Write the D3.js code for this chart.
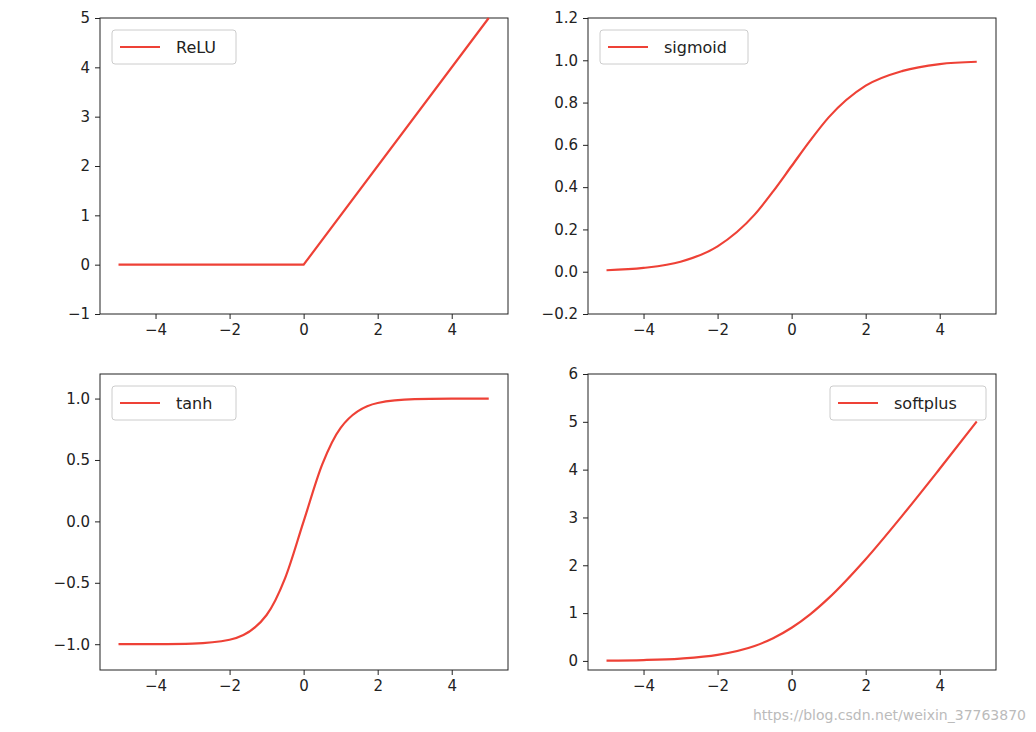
<!DOCTYPE html>
<html><head><meta charset="utf-8">
<script src="https://cdn.jsdelivr.net/npm/d3@7"></script>
<style>body{margin:0;background:#fff}text{font-family:"DejaVu Sans",sans-serif}</style>
</head><body><svg id="c" width="1036" height="732"></svg>
<script>
// values
const xs = [-5, -4, -3, -2, -1, -0.5, 0, 0.5, 1, 2, 3, 4, 5]
const reluX = [-5, 0, 5]
const reluY = [0, 0, 5]
const sigmoidY = [0.007, 0.018, 0.047, 0.12, 0.27, 0.38, 0.5, 0.62, 0.73, 0.88, 0.95, 0.982, 0.993]
const tanhY = [-1, -0.999, -0.995, -0.964, -0.762, -0.462, 0, 0.462, 0.762, 0.964, 0.995, 0.999, 1]
const softplusY = [0.007, 0.018, 0.049, 0.127, 0.313, 0.474, 0.693, 0.974, 1.313, 2.127, 3.049, 4.018, 5.007]
const xTicks = [-4, -2, 0, 2, 4]

const panels = [
  {name: "ReLU", x: reluX, y: reluY, left: 100, top: 18, ydom: [-1, 5], yticks: [-1, 0, 1, 2, 3, 4, 5], fmt: d3.format("d"), legend: "left"},
  {name: "sigmoid", x: xs, y: sigmoidY, left: 588, top: 18, ydom: [-0.2, 1.2], yticks: [-0.2, 0, 0.2, 0.4, 0.6, 0.8, 1.0, 1.2], fmt: d3.format(".1f"), legend: "left"},
  {name: "tanh", x: xs, y: tanhY, left: 100, top: 374, ydom: [-1.21, 1.2], yticks: [-1, -0.5, 0, 0.5, 1], fmt: d3.format(".1f"), legend: "left"},
  {name: "softplus", x: xs, y: softplusY, left: 588, top: 374, ydom: [-0.19, 6], yticks: [0, 1, 2, 3, 4, 5, 6], fmt: d3.format("d"), legend: "right"}
]
const w = 408, h = 296, red = "#ee4136"
const svg = d3.select("#c")

panels.forEach(function(p) {
  const g = svg.append("g").attr("transform", "translate(" + p.left + "," + p.top + ")")
  const x = d3.scaleLinear().domain([-5.5, 5.52]).range([0, w])
  const y = d3.scaleLinear().domain(p.ydom).range([h, 0])
  const xa = g.append("g").attr("transform", "translate(0," + h + ")")
    .call(d3.axisBottom(x).tickValues(xTicks).tickSize(5).tickPadding(5).tickFormat(d => d < 0 ? "\u2212" + (-d) : d))
  const ya = g.append("g").call(d3.axisLeft(y).tickValues(p.yticks).tickSize(5).tickPadding(5)
    .tickFormat(d => { const s = p.fmt(d); return s.replace("-", "\u2212") }))
  ;[xa, ya].forEach(a => {
    a.select(".domain").remove()
    a.selectAll("text").attr("font-size", 15).attr("fill", "#222")
    a.selectAll("line").attr("stroke", "#222")
  })
  g.append("rect").attr("width", w).attr("height", h).attr("fill", "none").attr("stroke", "#222")
  const line = d3.line().x(d => x(d[0])).y(d => y(d[1])).curve(p.x.length > 3 ? d3.curveMonotoneX : d3.curveLinear)
  g.append("path").datum(p.x.map((v, i) => [v, p.y[i]]))
    .attr("d", line).attr("fill", "none").attr("stroke", red).attr("stroke-width", 2.2)
  const lw = p.name.length * 8 + 92
  const lx = p.legend == "left" ? 12 : w - lw - 10
  const lg = g.append("g").attr("transform", "translate(" + lx + ",12)")
  lg.append("rect").attr("width", lw).attr("height", 34).attr("rx", 3).attr("fill", "#fff").attr("stroke", "#ccc")
  lg.append("line").attr("x1", 8).attr("x2", 48).attr("y1", 17).attr("y2", 17).attr("stroke", red).attr("stroke-width", 2.2)
  lg.append("text").attr("x", 64).attr("y", 23).attr("font-size", 16).attr("fill", "#222").text(p.name)
})

svg.append("text").attr("x", 1026).attr("y", 720).attr("text-anchor", "end")
  .attr("font-size", 14).attr("fill", "#bbb").text("https://blog.csdn.net/weixin_37763870")
</script></body></html>
